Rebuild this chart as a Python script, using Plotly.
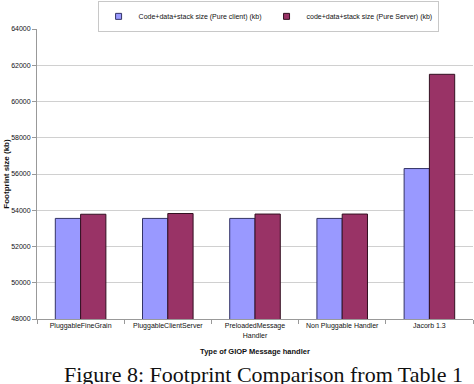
import plotly.graph_objects as go

categories = ["PluggableFineGrain", "PluggableClientServer", "PreloadedMessage<br>Handler",
              "Non Pluggable Handler", "Jacorb 1.3"]
client_kb = [53550, 53550, 53550, 53550, 56300]
server_kb = [53780, 53820, 53790, 53790, 61500]
y_ticks = [48000, 50000, 52000, 54000, 56000, 58000, 60000, 62000, 64000]
series_names = ["Code+data+stack size (Pure client) (kb)", "code+data+stack size (Pure Server) (kb)"]
colors = ["#9999FF", "#993366"]
edges = ["#333366", "#331122"]

fig = go.Figure()
for name, vals, c, e in zip(series_names, [client_kb, server_kb], colors, edges):
    fig.add_trace(go.Bar(name=name, x=categories, y=vals, showlegend=False,
                         marker=dict(color=c, line=dict(color=e, width=1))))
for name, c, e in zip(series_names, colors, edges):
    fig.add_trace(go.Scatter(name=name, x=[None], y=[None], mode="markers",
                             marker=dict(symbol="square", size=6, color=c, line=dict(color=e, width=1))))

fig.update_layout(
    width=474, height=384,
    margin=dict(l=37, r=1, t=29, b=65, autoexpand=False),
    paper_bgcolor="white", plot_bgcolor="white",
    barmode="group", bargap=0.42, bargroupgap=0,
    font=dict(family="Liberation Sans, Arial", size=8, color="#111"),
    legend=dict(orientation="h", x=0.53, xanchor="center", y=1.097, yanchor="top",
                bordercolor="#c8c8c8", borderwidth=1, font=dict(size=7),
                itemwidth=30, tracegroupgap=0),
    showlegend=True,
)
fig.update_yaxes(range=[48000, 64000], tickvals=y_ticks, ticktext=[str(v) for v in y_ticks],
                 showgrid=True, gridcolor="#d0d0d0", gridwidth=1,
                 showline=True, linecolor="#999", ticks="outside", ticklen=4, tickcolor="#999",
                 tickfont=dict(size=7),
                 title=dict(text="<b>Footprint size (kb)</b>", font=dict(size=8), standoff=0))
fig.update_xaxes(showline=True, linecolor="#999", ticks="outside", tickson="boundaries",
                 ticklen=4, tickcolor="#999", tickfont=dict(size=7), tickangle=0,
                 title=dict(text="<b>Type of GIOP Message handler</b>", font=dict(size=7.5), standoff=11))
fig.add_annotation(text="Figure 8: Footprint Comparison from Table 1", xref="paper", yref="paper",
                   x=0.52, y=-0.142, xanchor="center", yanchor="top", showarrow=False,
                   font=dict(family="Liberation Serif, Times New Roman", size=22, color="#111"))
fig.write_html("out.html", config={"displayModeBar": False},
               post_script="document.body.style.margin='0';")
